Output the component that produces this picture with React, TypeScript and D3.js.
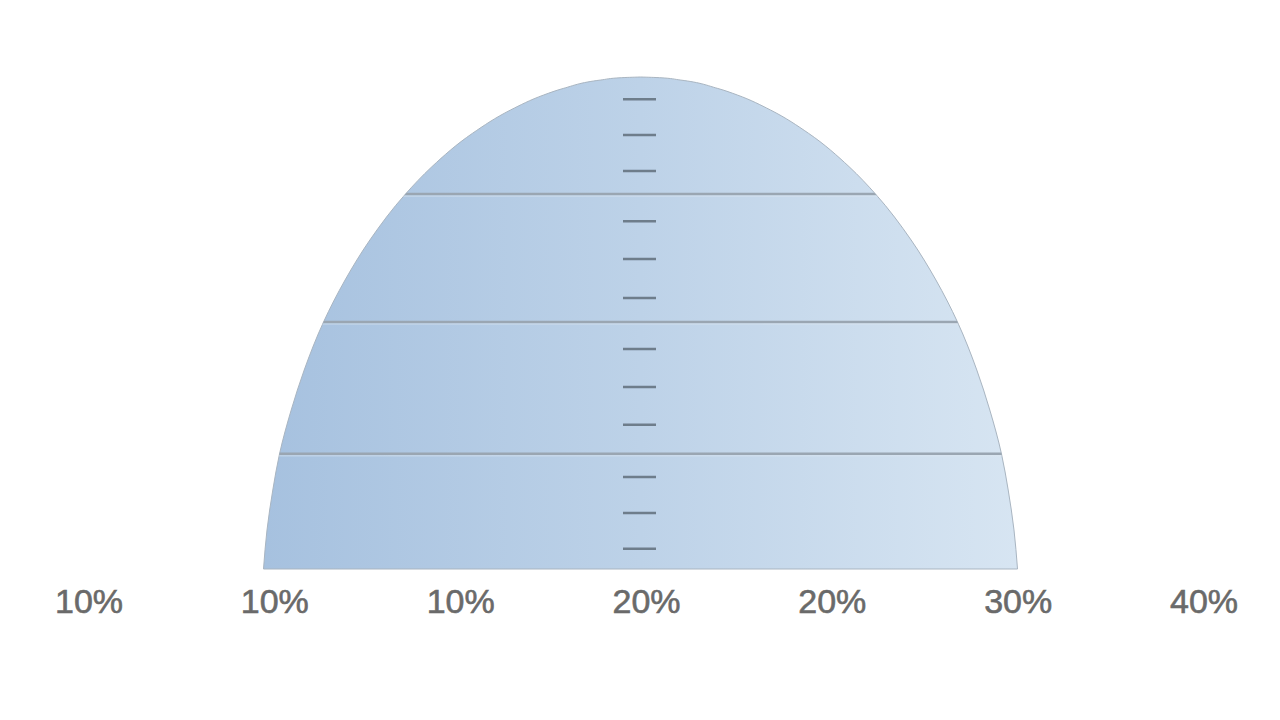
import React from 'react';
import * as d3 from 'd3';

// axis labels along the bottom
const tickLabels = ['10%', '10%', '10%', '20%', '20%', '30%', '40%'];

// dome outline: height (0 = base, 100 = apex) and half width (% of base)
const profileHeights = [0, 7.93, 16.06, 23.37, 32.32, 40.45, 50.2, 58.74, 66.87, 76.22, 81.77, 88.56, 93.29, 96.34, 97.7, 99.39, 99.86, 100];
const profileWidths = [100, 99.07, 97.53, 95.76, 92.65, 89.2, 84.08, 78.36, 71.78, 62.33, 55.33, 44.56, 34.48, 25.68, 20.37, 10.53, 5.1, 0];

// horizontal bands and the small centre marks
const levelBounds = [23.4, 50.2, 76.2];
const dashLevels = [4.1, 11.4, 18.7, 29.3, 37, 44.7, 55.1, 63, 70.7, 80.9, 88.2, 95.5];

const W = 1280;
const H = 720;

const App: React.FC = () => {
  const x = d3.scalePoint<number>().domain(d3.range(tickLabels.length)).range([89, 1204]);
  const domeX = d3.scaleLinear().domain([-100, 100]).range([263.5, 1017.5]);
  const y = d3.scaleLinear().domain([0, 100]).range([569, 77]);

  const idx = d3.range(profileHeights.length);
  const dome = d3.area<number>()
    .y((i) => y(profileHeights[i]))
    .x0((i) => domeX(-profileWidths[i]))
    .x1((i) => domeX(profileWidths[i]))
    .curve(d3.curveMonotoneY);
  const domePath = dome(idx) || '';

  const cx = domeX(0) - 1;

  return (
    <div style={{ position: 'fixed', left: 0, top: 0 }}>
      <svg width={W} height={H} style={{ display: 'block', background: '#ffffff' }}>
        <defs>
          <linearGradient id="domeFill" gradientUnits="userSpaceOnUse" x1={domeX(-100)} y1={0} x2={domeX(100)} y2={0}>
            <stop offset="0%" stopColor="#a6c1df" />
            <stop offset="50%" stopColor="#bdd2e8" />
            <stop offset="100%" stopColor="#d7e5f2" />
          </linearGradient>
          <clipPath id="domeClip">
            <path d={domePath} />
          </clipPath>
        </defs>

        <path d={domePath} fill="url(#domeFill)" stroke="#a9b5c1" strokeWidth={1} />

        <g clipPath="url(#domeClip)">
          {levelBounds.map((v, i) => (
            <g key={i}>
              <line x1={200} x2={1100} y1={y(v)} y2={y(v)} stroke="#9aa6b2" strokeWidth={2.5} />
              <line x1={200} x2={1100} y1={y(v) + 2} y2={y(v) + 2} stroke="#dfe8f1" strokeWidth={1} opacity={0.6} />
            </g>
          ))}
        </g>

        {dashLevels.map((v, i) => (
          <line key={i} x1={cx - 16.5} x2={cx + 16.5} y1={y(v)} y2={y(v)} stroke="#6e7d8b" strokeWidth={2.5} />
        ))}

        {tickLabels.map((t, i) => (
          <text
            key={i}
            x={x(i)}
            y={613}
            textAnchor="middle"
            fontFamily="'Liberation Sans', Arial, sans-serif"
            fontSize={34}
            fill="#6a6a6a"
            stroke="#6a6a6a"
            strokeWidth={0.6}
          >
            {t}
          </text>
        ))}
      </svg>
    </div>
  );
};

export default App;
